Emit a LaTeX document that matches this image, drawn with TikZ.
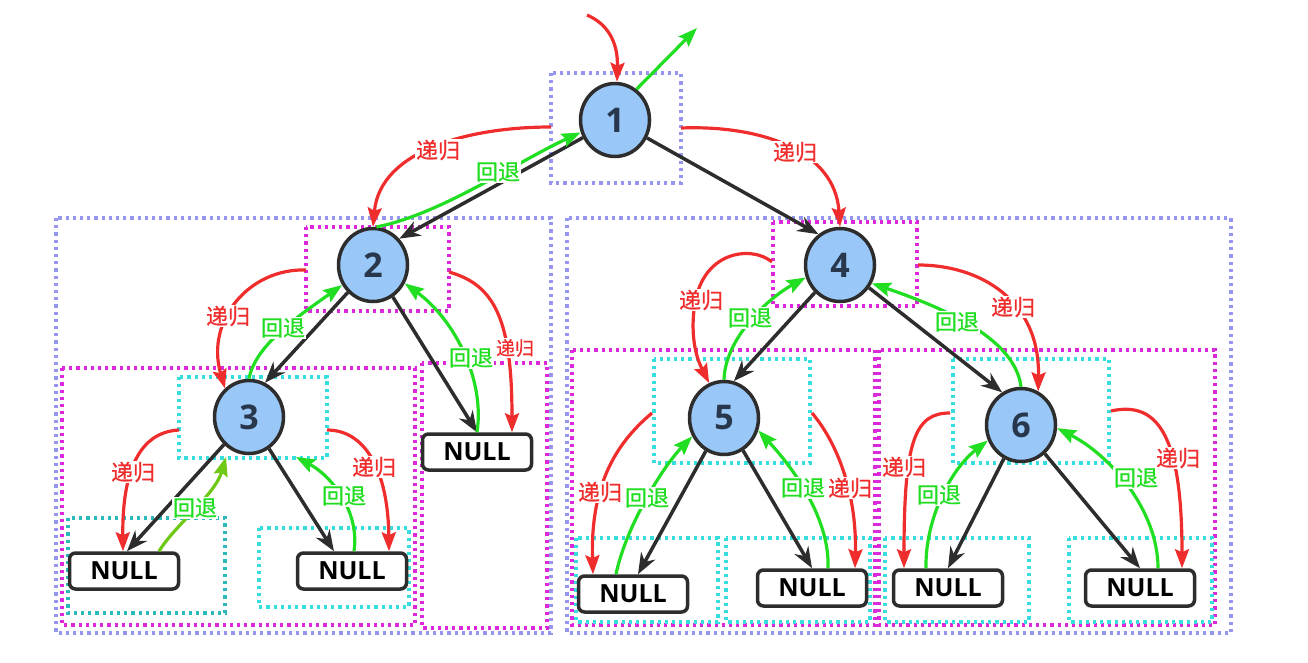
\documentclass[tikz,border=0pt]{standalone}
\usepackage{fontspec}
\newfontfamily\cjk[FakeBold=0.7]{Noto Sans CJK SC}
\newfontfamily\osans{Open Sans}
\usetikzlibrary{shapes.geometric,arrows.meta}
\definecolor{rd}{RGB}{240,45,45}
\definecolor{gn}{RGB}{34,222,34}
\definecolor{yg}{RGB}{110,200,20}
\definecolor{bl}{RGB}{150,150,238}
\definecolor{mg}{RGB}{218,40,218}
\definecolor{cy}{RGB}{55,220,220}
\definecolor{tl}{RGB}{45,185,185}
\definecolor{nodefill}{RGB}{153,200,248}
\definecolor{dk}{RGB}{45,45,45}
\definecolor{numc}{RGB}{40,55,75}
\tikzset{
  dotbox/.style={line width=3.2pt, dash pattern=on 3.2pt off 4pt},
  tnode/.style={ellipse, draw=dk, line width=3.5pt, fill=nodefill, minimum width=69pt, minimum height=73pt, inner sep=0pt, font=\osans\bfseries\fontsize{34}{34}\selectfont, text=numc},
  nullbox/.style={rectangle, rounded corners=6pt, draw=dk, line width=3.5pt, fill=white, minimum width=109pt, minimum height=36pt, inner sep=0pt, font=\osans\bfseries\fontsize{25}{25}\selectfont},
  edge/.style={draw=dk, line width=3.5pt, -{Stealth[length=21pt,width=16pt]}},
  rarr/.style={draw=rd, line width=3.2pt, -{Stealth[length=19pt,width=14pt,inset=3pt]}},
  garr/.style={draw=gn, line width=3.2pt, -{Stealth[length=19pt,width=14pt,inset=3pt]}},
  yarr/.style={draw=yg, line width=3.2pt, -{Stealth[length=19pt,width=14pt,inset=3pt]}},
  rlab/.style={fill=white, inner sep=1pt, text=rd, font=\cjk\fontsize{22}{22}\selectfont},
  glab/.style={fill=white, inner sep=1pt, text=gn, font=\cjk\fontsize{22}{22}\selectfont}
}
\begin{document}
\begin{tikzpicture}[x=1pt,y=-1pt]
\useasboundingbox (0,0) rectangle (1308,663);
% dotted boxes
\draw[dotbox,bl] (551,73) rectangle (681,183);
\draw[dotbox,bl] (56,218) rectangle (551,633);
\draw[dotbox,bl] (567,218) rectangle (1231,633);
\draw[dotbox,mg] (306,227) rectangle (449,311);
\draw[dotbox,mg] (773,222) rectangle (917,306);
\draw[dotbox,mg] (62,368) rectangle (415,625);
\draw[dotbox,mg] (422,363) rectangle (547,628);
\draw[dotbox,mg] (572,350) rectangle (875,625);
\draw[dotbox,mg] (879,350) rectangle (1215,625);
\draw[dotbox,cy] (179,377) rectangle (327,458);
\draw[dotbox,tl] (68,518) rectangle (225,613);
\draw[dotbox,cy] (259,528) rectangle (409,607);
\draw[dotbox,cy] (654,359) rectangle (810,463);
\draw[dotbox,cy] (953,359) rectangle (1109,463);
\draw[dotbox,cy] (576,538) rectangle (718,622);
\draw[dotbox,cy] (726,538) rectangle (870,622);
\draw[dotbox,cy] (885,538) rectangle (1029,622);
\draw[dotbox,cy] (1069,538) rectangle (1212,622);
% nodes
\node[tnode] (n1) at (615,120) {1};
\node[tnode] (n2) at (373,265) {2};
\node[tnode] (n3) at (249,417) {3};
\node[tnode] (n4) at (840,265) {4};
\node[tnode] (n5) at (724,418) {5};
\node[tnode] (n6) at (1021,425) {6};
\node[nullbox] (z2) at (477,452) {NULL};
\node[nullbox] (z3l) at (124,571) {NULL};
\node[nullbox] (z3r) at (352,571) {NULL};
\node[nullbox] (z5l) at (633,594) {NULL};
\node[nullbox] (z5r) at (812,588) {NULL};
\node[nullbox] (z6l) at (948,588) {NULL};
\node[nullbox] (z6r) at (1140,588) {NULL};
% free coordinates
\coordinate (s0) at (587,15);
\coordinate (e0) at (697,28);
\coordinate (r12s) at (551,127);
\coordinate (r14s) at (681,128);
\coordinate (r23s) at (306,270);
\coordinate (r2zs) at (449,272);
\coordinate (r3ls) at (179,430);
\coordinate (r3rs) at (327,430);
\coordinate (r45s) at (772,262);
\coordinate (r46s) at (918,265);
\coordinate (r5ls) at (652,413);
\coordinate (r5rs) at (812,413);
\coordinate (r6ls) at (950,413);
\coordinate (r6rs) at (1111,411);
\coordinate (t3l) at (226,457);
\coordinate (t3r) at (296,457);
% tree edges
\draw[edge] (n1) -- (n2.45);
\draw[edge] (n1) -- (n4.125);
\draw[edge] (n2) -- (n3.65);
\draw[edge] (n2) -- (z2.north);
\draw[edge] (n3) -- ([xshift=3pt]z3l.north);
\draw[edge] (n3) -- ([xshift=-18pt]z3r.north);
\draw[edge] (n4) -- (n5.75);
\draw[edge] (n4) -- (n6.120);
\draw[edge] (n5) -- ([xshift=5pt]z5l.north);
\draw[edge] (n5) -- (z5r.north);
\draw[edge] (n6) -- (z6l.north);
\draw[edge] (n6) -- (z6r.north);
% top
\draw[rarr] (s0) .. controls (610,25) and (618,45) .. ([xshift=2pt]n1.north);
\draw[garr] (n1.55) -- (e0);
% recursion (red)
\draw[rarr] (r12s) .. controls (470,127) and (380,150) .. (n2.north);
\draw[rarr] (r14s) .. controls (760,125) and (835,150) .. (n4.north);
\draw[rarr] (r23s) .. controls (250,268) and (205,320) .. (n3.130);
\draw[rarr] (r2zs) .. controls (495,285) and (512,320) .. ([xshift=35pt]z2.north);
\draw[rarr] (r3ls) .. controls (140,432) and (122,470) .. ([xshift=-1pt]z3l.north);
\draw[rarr] (r3rs) .. controls (365,430) and (388,470) .. ([xshift=37pt]z3r.north);
\draw[rarr] (r45s) .. controls (752,245) and (700,250) .. (694,310) .. controls (690,345) and (700,365) .. (n5.113);
\draw[rarr] (r46s) .. controls (980,265) and (1040,300) .. (n6.63);
\draw[rarr] (r5ls) .. controls (620,440) and (590,480) .. ([xshift=-40pt]z5l.north);
\draw[rarr] (r5rs) .. controls (835,440) and (857,490) .. ([xshift=43pt]z5r.north);
\draw[rarr] (r6ls) .. controls (915,413) and (904,440) .. ([xshift=-44pt]z6l.north);
\draw[rarr] (r6rs) .. controls (1160,400) and (1182,440) .. ([xshift=42pt]z6r.north);
% backtrack (green)
\draw[garr] (n2.85) .. controls (440,215) and (520,160) .. (n1.200);
\draw[garr] (n3.north) .. controls (255,345) and (300,315) .. (n2.213);
\draw[garr] (z2.north) .. controls (485,380) and (455,320) .. (n2.330);
\draw[yarr] ([xshift=35pt]z3l.north) .. controls (175,525) and (215,495) .. (t3l);
\draw[garr] ([xshift=2pt]z3r.north) .. controls (360,510) and (330,475) .. (t3r);
\draw[garr] (n5.north) .. controls (725,340) and (765,300) .. (n4.200);
\draw[garr] (n6.north) .. controls (1015,340) and (950,310) .. (n4.330);
\draw[garr] ([xshift=-17pt]z5l.north) .. controls (625,530) and (660,470) .. (n5.210);
\draw[garr] ([xshift=16pt]z5r.north) .. controls (830,520) and (795,470) .. (n5.340);
\draw[garr] ([xshift=-22pt]z6l.north) .. controls (925,520) and (950,470) .. (n6.205);
\draw[garr] ([xshift=18pt]z6r.north) .. controls (1158,510) and (1110,455) .. (n6.355);
% labels
\node[rlab] (l1) at (438,150) {递归};
\node[rlab] (l2) at (795,152) {递归};
\node[rlab] (l3) at (228,316) {递归};
\node[rlab,font=\cjk\fontsize{19}{19}\selectfont] (l4) at (515,348) {递归};
\node[rlab] (l5) at (133,472) {递归};
\node[rlab] (l6) at (374,467) {递归};
\node[rlab] (l7) at (701,300) {递归};
\node[rlab] (l8) at (1013,307) {递归};
\node[rlab] (l9) at (600,492) {递归};
\node[rlab] (l10) at (850,488) {递归};
\node[rlab] (l11) at (904,467) {递归};
\node[rlab] (l12) at (1178,458) {递归};
\node[glab] (h1) at (498,172) {回退};
\node[glab] (h2) at (283,328) {回退};
\node[glab] (h3) at (471,358) {回退};
\node[glab] (h4) at (195,508) {回退};
\node[glab] (h5) at (344,496) {回退};
\node[glab] (h6) at (750,318) {回退};
\node[glab] (h7) at (957,322) {回退};
\node[glab] (h8) at (647,498) {回退};
\node[glab] (h9) at (803,488) {回退};
\node[glab] (h10) at (939,495) {回退};
\node[glab] (h11) at (1136,478) {回退};
\end{tikzpicture}
\end{document}
